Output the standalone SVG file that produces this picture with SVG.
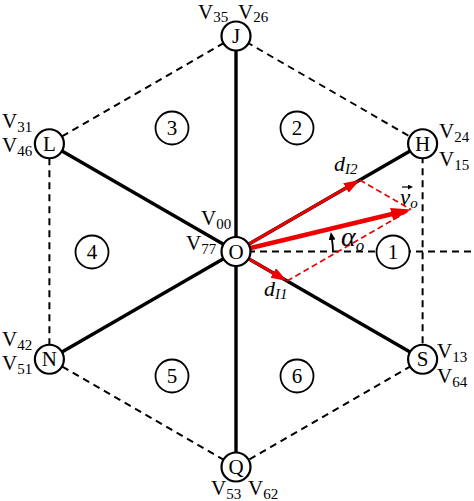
<svg xmlns="http://www.w3.org/2000/svg" width="474" height="501" viewBox="0 0 474 501">
<defs>
<style>
.t{font-family:"Liberation Serif","Times New Roman",serif;fill:#000}
.v{font-size:21px}
.s{font-size:15px}
.n{font-size:21px;text-anchor:middle}
.i{font-style:italic}
.node{fill:#fff;stroke:#000;stroke-width:2.2}
.reg{fill:#fff;stroke:#000;stroke-width:1.8}
.solid{stroke:#000;stroke-width:3.4;fill:none}
.dash{stroke:#000;stroke-width:2;stroke-dasharray:7 5;fill:none}
.rdash{stroke:#e00;stroke-width:1.6;stroke-dasharray:6 3.5;fill:none}
</style>
<marker id="ahBig" markerUnits="userSpaceOnUse" markerWidth="22" markerHeight="14" refX="6" refY="6.5" orient="auto"><path d="M0,0 L20,6.5 L0,13 z" fill="#e00"/></marker>
<marker id="ahRed" markerUnits="userSpaceOnUse" markerWidth="18" markerHeight="12" refX="5" refY="5.5" orient="auto"><path d="M0,0 L16,5.5 L0,11 z" fill="#e00"/></marker>
<marker id="ahBlk" markerUnits="userSpaceOnUse" markerWidth="10" markerHeight="10" refX="2" refY="3.5" orient="auto"><path d="M0,0 L8,3.5 L0,7 z" fill="#000"/></marker>
<marker id="ahTiny" markerUnits="userSpaceOnUse" markerWidth="8" markerHeight="6" refX="1" refY="2.5" orient="auto"><path d="M0,0 L5,2.5 L0,5 z" fill="#000"/></marker>
</defs>
<rect width="474" height="501" fill="#fff"/>
<g id="connectors">
<path class="dash" d="M236,36 L422.6,143.75 L422.6,359.25 L236,467 L49.4,359.25 L49.4,143.75 Z"/>
<line class="dash" x1="236" y1="251.5" x2="474" y2="251.5"/>
<line class="solid" x1="236" y1="36" x2="236" y2="467"/>
<line class="solid" x1="236" y1="251.5" x2="49.4" y2="143.75"/>
<line class="solid" x1="236" y1="251.5" x2="49.4" y2="359.25"/>
<line class="solid" x1="236" y1="251.5" x2="422.6" y2="143.75"/>
<line class="solid" x1="236" y1="251.5" x2="422.6" y2="359.25"/>
<line class="rdash" x1="359.8" y1="180" x2="411" y2="209.5"/>
<line class="rdash" x1="287.1" y1="281" x2="411" y2="209.5"/>
<line stroke="#e00" stroke-width="3" x1="236" y1="251.5" x2="277.6" y2="275.5" marker-end="url(#ahRed)"/>
<line stroke="#e00" stroke-width="3" x1="236" y1="251.5" x2="350.3" y2="185.5" marker-end="url(#ahRed)"/>
<line stroke="#e00" stroke-width="4.5" x1="236" y1="251.5" x2="397.4" y2="212.8" marker-end="url(#ahBig)"/>
<path d="M333,251.5 A97,97 0 0 0 331.8,238" stroke="#000" stroke-width="1.8" fill="none" marker-end="url(#ahBlk)"/>
<line x1="402" y1="187" x2="409" y2="187" stroke="#000" stroke-width="1.2" marker-end="url(#ahTiny)"/>
</g>
<g class="t">
<text class="i" x="334" y="171" font-size="22">d<tspan font-size="15" dy="3">I2</tspan></text>
<text class="i" x="264" y="296" font-size="22">d<tspan font-size="15" dy="3">I1</tspan></text>
<text class="i" x="400" y="205" font-size="23">v<tspan font-size="15" dy="3">o</tspan></text>
<text class="i" x="341" y="246" font-size="28">α<tspan font-size="17" dy="5">o</tspan></text>
</g>
<g id="reg1"><circle class="reg" cx="393" cy="252" r="16.5"/><text class="t n" x="393" y="259">1</text></g>
<g id="reg2"><circle class="reg" cx="297" cy="128" r="16.5"/><text class="t n" x="297" y="135">2</text></g>
<g id="reg3"><circle class="reg" cx="172" cy="128" r="16.5"/><text class="t n" x="172" y="135">3</text></g>
<g id="reg4"><circle class="reg" cx="92" cy="252" r="16.5"/><text class="t n" x="92" y="259">4</text></g>
<g id="reg5"><circle class="reg" cx="172" cy="376" r="16.5"/><text class="t n" x="172" y="383">5</text></g>
<g id="reg6"><circle class="reg" cx="297" cy="376" r="16.5"/><text class="t n" x="297" y="383">6</text></g>
<g id="nodeJ"><circle class="node" cx="236" cy="36" r="14.5"/><text class="t n" x="236" y="43">J</text>
<text class="t v" x="198" y="19">V<tspan class="s" dy="3">35</tspan></text><text class="t v" x="238" y="19">V<tspan class="s" dy="3">26</tspan></text></g>
<g id="nodeL"><circle class="node" cx="49.4" cy="143.75" r="14.5"/><text class="t n" x="49.4" y="150.75">L</text>
<text class="t v" x="2" y="128">V<tspan class="s" dy="4">31</tspan></text><text class="t v" x="2" y="152">V<tspan class="s" dy="4">46</tspan></text></g>
<g id="nodeH"><circle class="node" cx="422.6" cy="143.75" r="14.5"/><text class="t n" x="422.6" y="150.75">H</text>
<text class="t v" x="439" y="138">V<tspan class="s" dy="4">24</tspan></text><text class="t v" x="439" y="166">V<tspan class="s" dy="4">15</tspan></text></g>
<g id="nodeN"><circle class="node" cx="49.4" cy="359.25" r="14.5"/><text class="t n" x="49.4" y="366.25">N</text>
<text class="t v" x="2" y="346">V<tspan class="s" dy="4">42</tspan></text><text class="t v" x="2" y="370">V<tspan class="s" dy="4">51</tspan></text></g>
<g id="nodeS"><circle class="node" cx="422.6" cy="359.25" r="14.5"/><text class="t n" x="422.6" y="366.25">S</text>
<text class="t v" x="437" y="358">V<tspan class="s" dy="4">13</tspan></text><text class="t v" x="437" y="383">V<tspan class="s" dy="4">64</tspan></text></g>
<g id="nodeQ"><circle class="node" cx="236" cy="467" r="14.5"/><text class="t n" x="236" y="474">Q</text>
<text class="t v" x="211" y="495">V<tspan class="s" dy="4">53</tspan></text><text class="t v" x="248" y="495">V<tspan class="s" dy="4">62</tspan></text></g>
<g id="nodeO"><circle class="node" cx="236" cy="251.5" r="14.5"/><text class="t n" x="236" y="258.5">O</text>
<text class="t v" x="201" y="225">V<tspan class="s" dy="4">00</tspan></text><text class="t v" x="186" y="250">V<tspan class="s" dy="4">77</tspan></text></g>
</svg>
